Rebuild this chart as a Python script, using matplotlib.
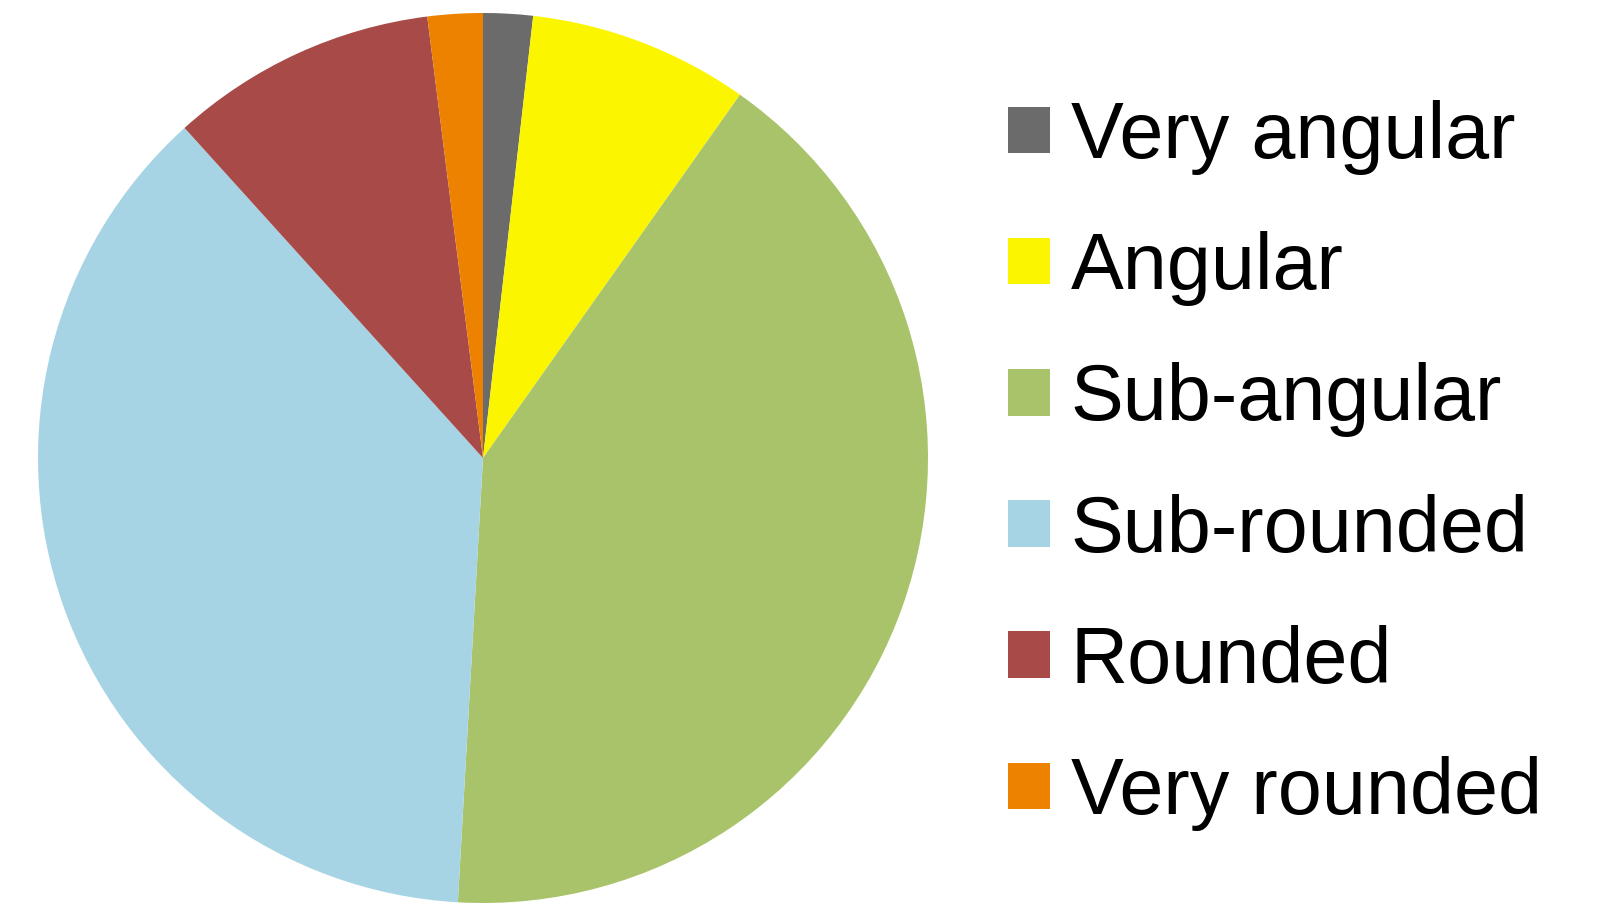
import matplotlib
matplotlib.use("Agg")
import matplotlib.pyplot as plt

# roundness classes, share in percent
labels = ["Very angular", "Angular", "Sub-angular", "Sub-rounded", "Rounded", "Very rounded"]
shares = [1.8, 8.0, 41.1, 37.4, 9.7, 2.0]
colors = ["#6b6b6b", "#fbf600", "#a9c36b", "#a6d4e4", "#a84a48", "#ec8200"]

plt.rcParams["font.family"] = ["Liberation Sans", "DejaVu Sans"]

fig = plt.figure(figsize=(16, 9.15), dpi=100)
ax = fig.add_axes([38 / 1600, 12 / 915, 890 / 1600, 890 / 915])
wedges, _ = ax.pie(shares, colors=colors, startangle=90, counterclock=False,
                   wedgeprops={"linewidth": 0})
ax.set_xlim(-1, 1)
ax.set_ylim(-1, 1)
ax.set_aspect("equal")

fig.legend(wedges, labels, loc="upper left", bbox_to_anchor=(1008 / 1600, 1 - 100 / 915),
           frameon=False, fontsize=57, handlelength=0.53, handleheight=0.53,
           handletextpad=0.26, labelspacing=0.71, borderaxespad=0, borderpad=0)

fig.savefig("out.png", dpi=100)
